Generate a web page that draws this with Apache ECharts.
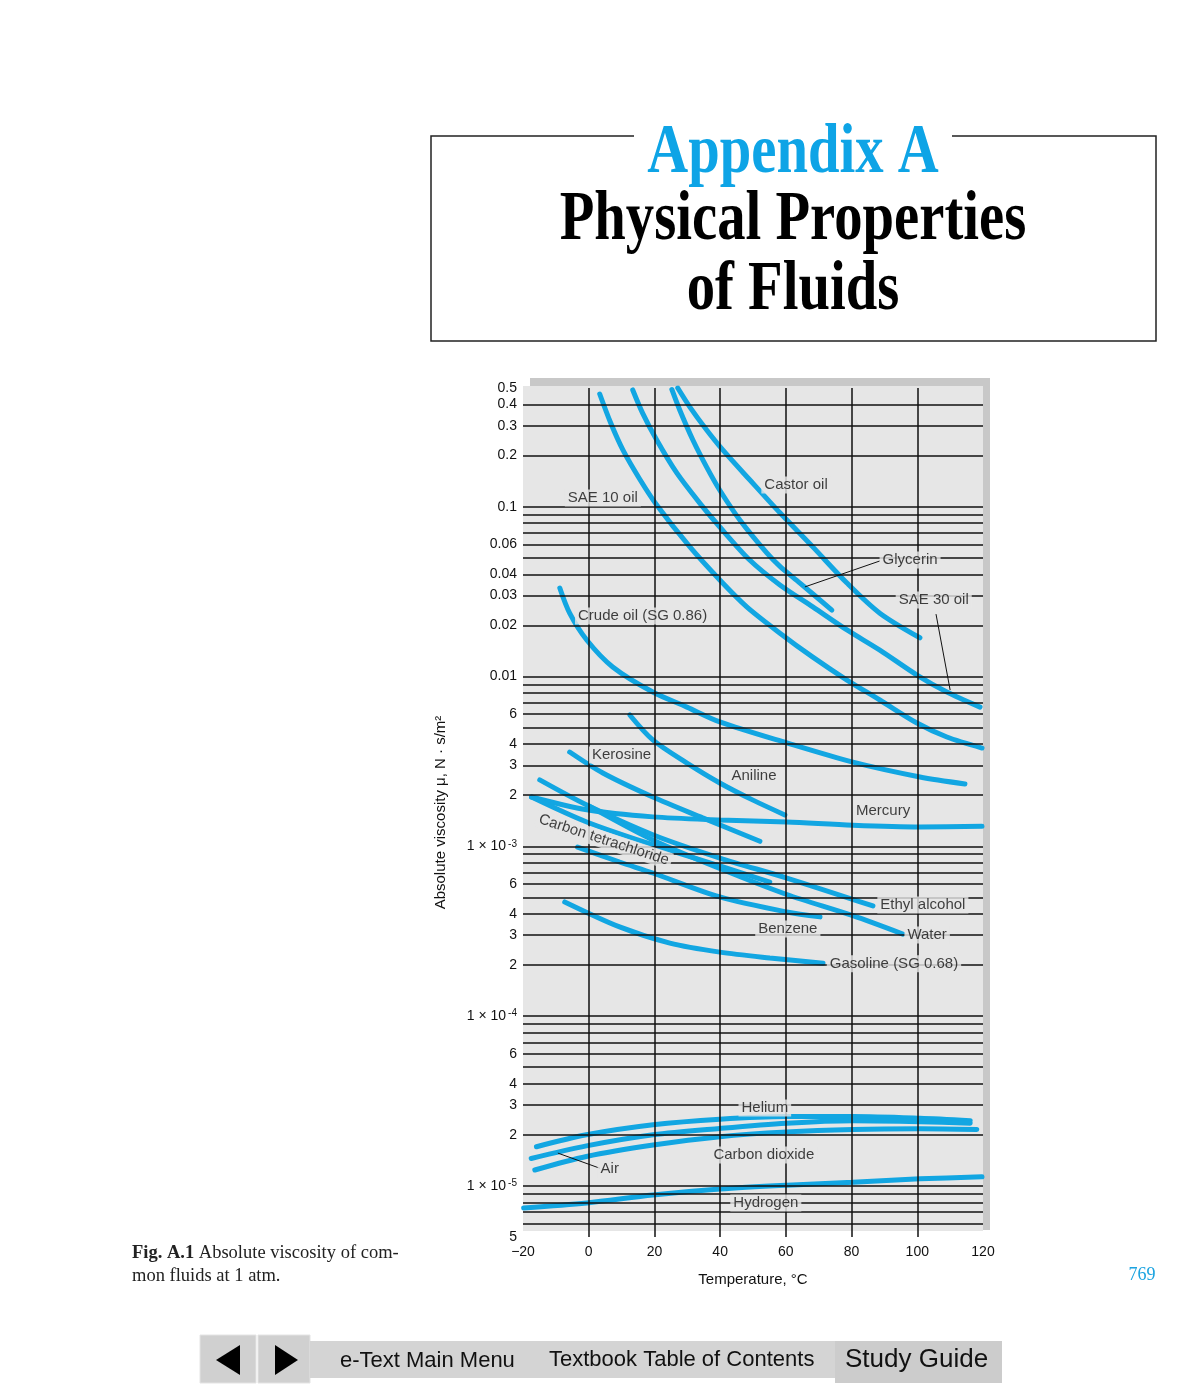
<!DOCTYPE html>
<html>
<head>
<meta charset="utf-8">
<script src="https://cdn.jsdelivr.net/npm/echarts@6/dist/echarts.min.js"></script>
<style>
html, body { margin: 0; padding: 0; background: #fff; }
#chart { width: 1200px; height: 1388px; }
</style>
</head>
<body>
<div id="chart"></div>
<script>
// temperature (°C) vs absolute viscosity (N·s/m²)
const sae10Oil = [[3.35, 0.461], [6.7, 0.311], [10.4, 0.216], [15.5, 0.1456], [20.7, 0.1023], [30.8, 0.0579], [39.9, 0.037], [48.1, 0.0257], [58.2, 0.018], [68.2, 0.013], [78.6, 0.00953], [88.6, 0.00727], [99.9, 0.00532], [109, 0.0044], [119.7, 0.00379]]
const sae30Oil = [[13.4, 0.487], [16.4, 0.356], [20.7, 0.247], [26.8, 0.158], [33.8, 0.105], [39.9, 0.0759], [49.0, 0.0485], [58.2, 0.0346], [68.2, 0.0257], [78.6, 0.0188], [88.6, 0.0143], [99.9, 0.0102], [109, 0.0081], [119.1, 0.0066]]
const glycerin = [[25.3, 0.49], [27.7, 0.371], [31.7, 0.247], [35.9, 0.171], [39.9, 0.125], [46.0, 0.0835], [54.2, 0.0534], [58.2, 0.0445], [64.3, 0.0355], [74.0, 0.0246]]
const castorOil = [[27.1, 0.5], [30.8, 0.386], [35.9, 0.283], [40.8, 0.216], [49.0, 0.144], [58.2, 0.092], [68.2, 0.058], [78.6, 0.0355], [88.6, 0.0236], [100.8, 0.0169]]
const crudeOil = [[-8.8, 0.0332], [-5.8, 0.0236], [-0.6, 0.0164], [7.3, 0.01138], [19.5, 0.0081], [29.9, 0.0066], [39.9, 0.0054], [60.3, 0.00406], [80.4, 0.00313], [100.8, 0.00256], [114.5, 0.00233]]
const aniline = [[12.5, 0.00593], [19.5, 0.00423], [29.9, 0.00309], [39.9, 0.00236], [50.0, 0.00187], [59.7, 0.00153]]
const kerosine = [[-5.8, 0.00359], [4.3, 0.0027], [19.5, 0.00195], [34.7, 0.00147], [52.1, 0.00107]]
const mercury = [[-17.4, 0.00195], [-0.6, 0.00164], [19.5, 0.00149], [39.9, 0.00143], [60.3, 0.00139], [80.4, 0.00133], [100.8, 0.0013], [119.7, 0.00131]]
const carbonTet = [[-17.4, 0.00195], [-0.6, 0.00139], [19.5, 0.00102], [39.9, 0.000766], [55.1, 0.000616]]
const ethylAlcohol = [[-14.9, 0.00246], [-0.6, 0.00175], [19.5, 0.00117], [39.9, 0.000853], [60.3, 0.00065], [86.5, 0.000445]]
const water = [[0, 0.00173], [19.5, 0.00109], [39.9, 0.00074], [60.3, 0.00052], [80.4, 0.00039], [95.6, 0.000304]]
const benzene = [[-3.4, 0.00099], [9.4, 0.000808], [19.5, 0.000696], [39.9, 0.000503], [60.3, 0.00041], [70.4, 0.000384]]
const gasoline = [[-7.3, 0.00047], [9.4, 0.000335], [24.7, 0.000269], [39.9, 0.000238], [55.1, 0.00022], [71.3, 0.000205]]
const helium = [[-15.9, 1.70e-5], [-0.7, 2.0e-5], [19.6, 2.29e-5], [39.9, 2.47e-5], [60.2, 2.56e-5], [80.5, 2.56e-5], [100.8, 2.50e-5], [116.1, 2.42e-5]]
const air = [[-17.5, 1.45e-5], [-0.7, 1.72e-5], [19.6, 2.0e-5], [39.9, 2.18e-5], [60.2, 2.34e-5], [80.5, 2.42e-5], [100.8, 2.39e-5], [116.1, 2.34e-5]]
const carbonDioxide = [[-16.4, 1.24e-5], [-0.7, 1.49e-5], [19.6, 1.74e-5], [39.9, 1.95e-5], [60.2, 2.08e-5], [80.5, 2.15e-5], [100.8, 2.17e-5], [118.1, 2.15e-5]]
const hydrogen = [[-19.8, 7.41e-6], [-0.6, 7.93e-6], [19.5, 8.84e-6], [39.9, 9.59e-6], [60.3, 1.01e-5], [80.4, 1.05e-5], [100.8, 1.10e-5], [119.7, 1.13e-5]]

// grid lines and tick labels
const xGrid = [0, 20, 40, 60, 80, 100]
const yGrid = [
  0.4, 0.3, 0.2, 0.1, 0.09, 0.08, 0.07, 0.06, 0.05, 0.04, 0.03, 0.02,
  0.01, 0.009, 0.008, 0.007, 0.006, 0.005, 0.004, 0.003, 0.002,
  0.001, 0.0009, 0.0008, 0.0007, 0.0006, 0.0005, 0.0004, 0.0003, 0.0002,
  0.0001, 9e-5, 8e-5, 7e-5, 6e-5, 5e-5, 4e-5, 3e-5, 2e-5,
  1e-5, 9e-6, 8e-6, 7e-6, 6e-6
]
const yTickValues = [0.5, 0.4, 0.3, 0.2, 0.1, 0.06, 0.04, 0.03, 0.02, 0.01, 0.006, 0.004, 0.003, 0.002, 0.001, 0.0006, 0.0004, 0.0003, 0.0002, 0.0001, 6e-5, 4e-5, 3e-5, 2e-5, 1e-5, 5e-6]
const yTickLabels = ['0.5', '0.4', '0.3', '0.2', '0.1', '0.06', '0.04', '0.03', '0.02', '0.01', '6', '4', '3', '2', '1 × 10{s|-3}', '6', '4', '3', '2', '1 × 10{s|-4}', '6', '4', '3', '2', '1 × 10{s|-5}', '5']

// curve names placed on the chart
const labelNames = ['Castor oil', 'SAE 10 oil', 'Glycerin', 'SAE 30 oil', 'Crude oil (SG 0.86)', 'Kerosine', 'Aniline', 'Mercury', 'Carbon tetrachloride', 'Ethyl alcohol', 'Water', 'Benzene', 'Gasoline (SG 0.68)', 'Helium', 'Carbon dioxide', 'Air', 'Hydrogen']
const labelAt = [[63.1, 0.134], [4.3, 0.1125], [97.8, 0.0485], [105, 0.0282], [16.4, 0.0227], [10, 0.00345], [50.3, 0.00259], [89.6, 0.00161], [4.6, 0.00109], [101.7, 0.000451], [103, 0.0003], [60.6, 0.000326], [92.9, 0.000203], [53.6, 2.88e-5], [53.3, 1.52e-5], [6.4, 1.26e-5], [53.9, 7.93e-6]]
const leaders = [
  [[88.6, 0.0479], [65.8, 0.0337]],
  [[105.7, 0.0233], [110, 0.00832]],
  [[3.4, 1.27e-5], [-9.4, 1.56e-5]]
]

const curves = [sae10Oil, sae30Oil, glycerin, castorOil, crudeOil, aniline, kerosine, mercury, carbonTet, ethylAlcohol, water, benzene, gasoline, helium, air, carbonDioxide, hydrogen]

const chart = echarts.init(document.getElementById('chart'))

const gridLineStyle = { color: '#111', width: 1.5, type: 'solid' }
const markData = []
xGrid.forEach(function (v) {
  markData.push({ xAxis: v, lineStyle: gridLineStyle, label: { show: false } })
})
yGrid.forEach(function (v) {
  markData.push({ yAxis: v, lineStyle: gridLineStyle, label: { show: false } })
})
yTickValues.forEach(function (v, i) {
  markData.push({
    yAxis: v,
    lineStyle: { color: 'rgba(0,0,0,0)', width: 0 },
    label: {
      show: true,
      position: 'start',
      distance: 6,
      formatter: yTickLabels[i],
      fontFamily: 'Liberation Sans',
      fontSize: 14,
      color: '#111',
      rich: { s: { fontFamily: 'Liberation Sans', fontSize: 10, color: '#111', verticalAlign: 'top', padding: [0, 0, 5, 2] } }
    }
  })
})
leaders.forEach(function (p) {
  markData.push([{ coord: p[0], lineStyle: { color: '#111', width: 1, type: 'solid' }, label: { show: false } }, { coord: p[1] }])
})

const series = [{
  type: 'line',
  data: [],
  z: 2,
  silent: true,
  markLine: { symbol: ['none', 'none'], silent: true, animation: false, precision: 12, data: markData }
}]
curves.forEach(function (c) {
  series.push({
    type: 'line',
    data: c,
    smooth: 0.3,
    showSymbol: false,
    silent: true,
    z: 3,
    lineStyle: { color: '#12a6e2', width: 5, cap: 'round' }
  })
})
series.push({
  type: 'scatter',
  z: 5,
  silent: true,
  symbolSize: 1,
  itemStyle: { color: 'rgba(0,0,0,0)' },
  data: labelNames.map(function (n, i) {
    return {
      name: n,
      value: labelAt[i],
      label: { rotate: n === 'Carbon tetrachloride' ? -18 : 0 }
    }
  }),
  label: {
    show: true,
    position: 'inside',
    formatter: '{b}',
    fontFamily: 'Liberation Sans',
    fontSize: 15,
    color: '#111',
    backgroundColor: '#e6e6e6',
    padding: [1, 3]
  }
})

chart.setOption({
  animation: false,
  backgroundColor: '#fff',
  grid: { left: 523, right: 217, top: 388, bottom: 151 },
  xAxis: {
    type: 'value',
    min: -20,
    max: 120,
    interval: 20,
    axisLine: { show: false },
    axisTick: { show: false },
    splitLine: { show: false },
    axisLabel: {
      margin: 8,
      fontFamily: 'Liberation Sans',
      fontSize: 14,
      color: '#111',
      formatter: function (v) { return String(v).replace('-', '−') }
    },
    name: 'Temperature, °C',
    nameLocation: 'middle',
    nameGap: 35,
    nameTextStyle: { fontFamily: 'Liberation Sans', fontSize: 15, color: '#111' }
  },
  yAxis: {
    type: 'log',
    logBase: 10,
    min: 5e-6,
    max: 0.5,
    axisLine: { show: false },
    axisTick: { show: false },
    axisLabel: { show: false },
    splitLine: { show: false },
    name: 'Absolute viscosity μ, N · s/m²',
    nameLocation: 'middle',
    nameRotate: 90,
    nameGap: 75,
    nameTextStyle: { fontFamily: 'Liberation Sans', fontSize: 15, color: '#111' }
  },
  graphic: [
    // plot panel and its shadow
    { type: 'rect', z: 0, shape: { x: 530, y: 378, width: 460, height: 852 }, style: { fill: '#c8c8c8' } },
    { type: 'rect', z: 0, shape: { x: 523, y: 386, width: 460, height: 845 }, style: { fill: '#e6e6e6' } },
    // title box
    { type: 'polyline', shape: { points: [[634, 136], [431, 136], [431, 341], [1156, 341], [1156, 136], [952, 136]] }, style: { stroke: '#222', lineWidth: 1.5, fill: null } },
    { type: 'text', x: 793, y: 154, scaleX: 0.81, style: { text: 'Appendix A', font: 'bold 70px "Liberation Serif"', fill: '#0ea4e6', align: 'center', verticalAlign: 'middle', textAlign: 'center', textVerticalAlign: 'middle' } },
    { type: 'text', x: 793, y: 221, scaleX: 0.81, style: { text: 'Physical Properties', font: 'bold 70px "Liberation Serif"', fill: '#000', align: 'center', verticalAlign: 'middle', textAlign: 'center', textVerticalAlign: 'middle' } },
    { type: 'text', x: 793, y: 291, scaleX: 0.81, style: { text: 'of Fluids', font: 'bold 70px "Liberation Serif"', fill: '#000', align: 'center', verticalAlign: 'middle', textAlign: 'center', textVerticalAlign: 'middle' } },
    // caption and page number
    { type: 'text', x: 132, y: 1253, style: { text: '{b|Fig. A.1} Absolute viscosity of com-', rich: { b: { fontWeight: 'bold', fontFamily: 'Liberation Serif', fontSize: 18.5, fill: '#222' } }, font: '18.5px "Liberation Serif"', fill: '#222', verticalAlign: 'middle', textVerticalAlign: 'middle' } },
    { type: 'text', x: 132, y: 1276, style: { text: 'mon fluids at 1 atm.', font: '18.5px "Liberation Serif"', fill: '#222', verticalAlign: 'middle', textVerticalAlign: 'middle' } },
    { type: 'text', x: 1142, y: 1275, style: { text: '769', font: '18px "Liberation Serif"', fill: '#1aa3e0', align: 'center', verticalAlign: 'middle', textAlign: 'center', textVerticalAlign: 'middle' } },
    // navigation bar
    { type: 'rect', shape: { x: 200, y: 1335, width: 56, height: 48 }, style: { fill: '#d0d0d0', stroke: '#e4e4e4', lineWidth: 1 } },
    { type: 'rect', shape: { x: 258, y: 1335, width: 52, height: 48 }, style: { fill: '#d0d0d0', stroke: '#e4e4e4', lineWidth: 1 } },
    { type: 'rect', shape: { x: 310, y: 1341, width: 525, height: 37 }, style: { fill: '#d4d4d4' } },
    { type: 'rect', shape: { x: 835, y: 1341, width: 167, height: 42 }, style: { fill: '#cccccc' } },
    { type: 'polygon', shape: { points: [[216, 1360], [240, 1345], [240, 1375]] }, style: { fill: '#000' } },
    { type: 'polygon', shape: { points: [[275, 1345], [275, 1375], [298, 1360]] }, style: { fill: '#000' } },
    { type: 'text', x: 340, y: 1361, style: { text: 'e-Text Main Menu', font: '22px "Liberation Sans"', fill: '#111', verticalAlign: 'middle', textVerticalAlign: 'middle' } },
    { type: 'text', x: 549, y: 1360, style: { text: 'Textbook Table of Contents', font: '22px "Liberation Sans"', fill: '#111', verticalAlign: 'middle', textVerticalAlign: 'middle' } },
    { type: 'text', x: 845, y: 1360, style: { text: 'Study Guide', font: '26px "Liberation Sans"', fill: '#111', verticalAlign: 'middle', textVerticalAlign: 'middle' } }
  ],
  series: series
})
</script>
</body>
</html>
